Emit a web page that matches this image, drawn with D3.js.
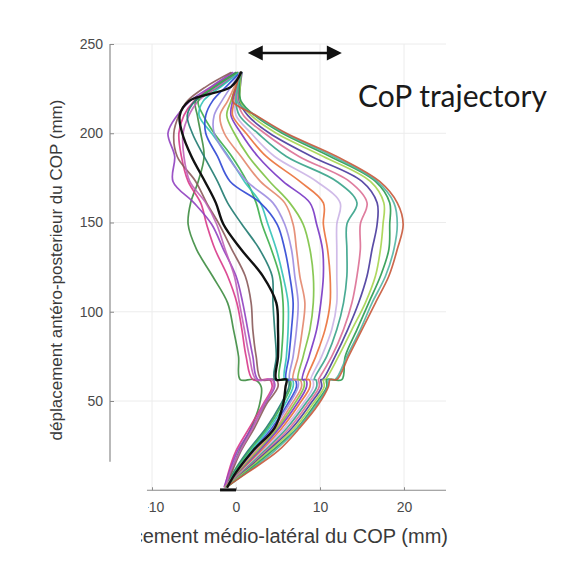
<!DOCTYPE html>
<html><head><meta charset="utf-8">
<script src="https://cdn.jsdelivr.net/npm/d3@7"></script>
<style>body{margin:0;background:#fff;} svg{display:block;}</style>
</head><body>
<script>
// ---- data ----
const xTicks = [-10, 0, 10, 20];
const yTicks = [50, 100, 150, 200, 250];
const yLevels = [2,10,22,35,48,58,62,62,75,90,105,120,135,149,161,173,187,200,210,218,226,234];

const seriesColors = [
  "#3d8c40","#d8388a","#9040c0","#8a5a5a","#c062b8","#1f7a70","#3cae4a","#32c2b6",
  "#2e46d4","#9c8ce0","#e3866c","#7cc242","#7836c4","#ea7038","#cbb4e6","#36a288",
  "#dc6f94","#48389c","#a6d44e","#2a9a4e","#52b4a2","#c8583a","#111111"
];
const seriesX = [
  [-1.2,-0.6,0.4,1.8,2.8,3.0,2.2,0.5,0.3,-0.3,-1.0,-2.8,-4.7,-5.7,-5.4,-4.5,-3.8,-4.2,-4.6,-4.8,-2.0,0.2],
  [-1.3,-0.9,0.0,1.6,3.2,4.3,4.0,2.0,1.2,0.7,0.1,-1.0,-2.5,-3.5,-4.2,-5.7,-6.5,-6.8,-6.2,-5.0,-2.8,0.0],
  [-1.4,-0.8,0.2,1.9,3.4,4.6,4.4,2.6,2.0,1.4,0.8,0.0,-1.5,-2.9,-5.0,-7.5,-7.3,-8.1,-7.0,-5.5,-3.0,-0.4],
  [-1.1,-0.5,0.6,2.2,3.6,5.0,4.8,3.0,2.4,2.0,1.8,1.1,-0.5,-2.0,-3.5,-4.8,-7.0,-7.4,-6.8,-5.8,-3.6,-0.6],
  [-1.2,-0.7,0.5,2.0,3.3,4.5,4.3,2.4,1.6,1.0,0.4,-0.2,-1.3,-2.3,-3.6,-5.5,-6.2,-6.3,-5.6,-4.5,-2.2,0.3],
  [-1.0,-0.3,1.4,3.6,5.3,6.3,6.2,4.6,4.8,4.6,4.4,4.3,2.8,0.7,-1.0,-2.2,-3.8,-5.2,-5.8,-4.9,-2.5,0.0],
  [-1.1,-0.2,1.6,3.8,5.5,6.5,6.4,5.2,5.4,5.6,5.6,5.2,4.2,3.1,2.4,1.3,-0.5,-2.6,-3.9,-4.5,-2.6,0.2],
  [-1.2,-0.1,1.8,4.0,5.8,6.8,6.7,5.8,6.0,6.2,6.2,5.6,4.8,3.8,2.9,1.0,-0.9,-2.9,-4.4,-3.9,-1.8,0.4],
  [-1.0,0.0,2.0,4.3,6.1,7.2,7.0,6.0,6.3,6.6,6.8,6.4,5.8,4.9,2.9,-0.7,-2.2,-3.6,-3.6,-2.8,-1.2,0.5],
  [-1.2,0.1,2.2,4.5,6.3,7.4,7.3,6.4,6.8,7.2,7.4,7.0,6.6,5.8,4.4,1.3,-1.0,-2.6,-2.6,-1.7,-0.6,0.6],
  [-1.3,0.2,2.4,4.8,6.6,7.8,7.6,6.8,7.4,7.9,8.2,7.6,7.2,6.8,5.8,2.9,0.6,-1.4,-1.9,-1.0,-0.2,0.5],
  [-1.1,0.3,2.6,5.0,6.9,8.1,8.0,7.4,8.0,8.8,9.2,9.2,8.8,8.0,6.4,4.0,1.5,-0.2,-1.1,-0.6,0.0,0.7],
  [-1.2,0.4,2.8,5.2,7.2,8.4,8.3,7.9,8.7,9.6,10.1,10.4,10.3,9.6,8.8,5.6,2.6,0.6,-0.6,-0.4,0.1,0.6],
  [-1.0,0.5,3.0,5.5,7.5,8.8,8.7,8.4,9.5,10.6,11.2,11.2,10.9,10.4,10.4,7.6,3.6,1.2,-0.4,-0.2,0.2,0.5],
  [-1.1,0.6,3.2,5.8,7.9,9.2,9.1,8.9,10.2,11.4,12.0,12.0,12.0,12.0,12.4,9.6,4.6,1.8,0.0,-0.1,0.3,0.4],
  [-1.2,0.7,3.4,6.1,8.2,9.6,9.5,9.3,10.8,12.0,12.8,13.2,13.2,13.2,14.4,12.0,6.0,2.6,0.4,0.0,0.3,0.6],
  [-1.3,0.8,3.6,6.4,8.5,9.9,9.8,9.8,11.4,12.8,13.8,14.4,14.8,14.8,15.6,13.5,7.5,3.4,0.9,0.2,0.4,0.6],
  [-1.1,0.9,3.8,6.7,8.8,10.2,10.1,10.3,11.8,13.3,14.6,15.6,16.2,16.8,16.8,15.0,9.0,4.0,1.4,0.4,0.5,0.7],
  [-1.2,1.0,4.0,7.0,9.1,10.5,10.4,10.6,12.2,13.8,15.4,16.6,17.2,17.5,17.6,16.0,10.4,4.8,1.8,0.5,0.5,0.6],
  [-1.0,1.2,4.3,7.3,9.4,10.8,10.8,12.6,13.0,14.4,15.8,17.2,18.2,18.3,18.3,16.6,11.2,5.5,2.2,0.6,0.4,0.5],
  [-1.2,1.3,4.6,7.4,9.6,10.9,11.0,11.8,13.2,14.8,16.2,17.8,18.8,19.2,18.8,16.8,11.6,5.8,2.3,0.1,0.2,0.6],
  [-1.1,1.4,5.0,7.6,9.8,11.0,11.2,12.0,13.4,15.0,16.6,18.2,19.2,19.9,19.2,17.1,12.0,6.0,2.4,-0.4,0.0,0.5],
  [-1.0,0.0,2.0,4.6,5.6,5.9,6.0,4.8,5.0,5.0,4.8,3.2,0.6,-1.5,-2.4,-3.7,-5.3,-6.4,-6.7,-5.6,-0.6,0.6]
];
const startBar = [[-1.9, 0.2], [0.0, 0.2]];
const arrowSpan = [1.4, 12.6];
const arrowY = 245;
const titleText = "CoP trajectory";
const xLabel = "déplacement médio-latéral du COP (mm)";
const yLabel = "déplacement antéro-posterieur du COP (mm)";

// ---- drawing ----
const W = 576, H = 566;
const svg = d3.select("body").append("svg").attr("width", W).attr("height", H)
  .style("font-family", "'Liberation Sans', Arial, sans-serif");

const x = d3.scaleLinear().domain([-10, 20]).range([152, 404]);
const y = d3.scaleLinear().domain([0, 250]).range([490.25, 44]);
const xLineDomain = [-10.6, 25.0];
const yLineDomain = [16, 250];

// clip paths (left side of the x axis area is cropped in the original)
svg.append("clipPath").attr("id", "cropTick").append("rect")
  .attr("x", 148).attr("y", -600).attr("width", W).attr("height", 1200);
svg.append("clipPath").attr("id", "cropLab").append("rect")
  .attr("x", 141).attr("y", 0).attr("width", W).attr("height", H);

// grid
const grid = svg.append("g").attr("stroke", "#ececec").attr("stroke-width", 1);
grid.selectAll("line.v").data(xTicks).join("line")
  .attr("x1", d => x(d)).attr("x2", d => x(d))
  .attr("y1", y(250)).attr("y2", y(0));
grid.selectAll("line.h").data(yTicks).join("line")
  .attr("x1", 110).attr("x2", x(xLineDomain[1]))
  .attr("y1", d => y(d)).attr("y2", d => y(d));

// axes
const xAxis = d3.axisBottom(x).tickValues(xTicks).tickSize(-3).tickPadding(12)
  .tickFormat(d => d < 0 ? "\u2212" + Math.abs(d) : d);
const gx = svg.append("g").attr("transform", `translate(0,${y(0)})`)
  .attr("clip-path", "url(#cropTick)").call(xAxis);
gx.select(".domain").remove();
gx.selectAll("line").attr("stroke", "#8a8a8a");
gx.selectAll("text").attr("fill", "#4a4a4a").style("font-size", "14px");
svg.append("line").attr("x1", x(xLineDomain[0])).attr("x2", x(xLineDomain[1]))
  .attr("y1", y(0)).attr("y2", y(0)).attr("stroke", "#8a8a8a").attr("stroke-width", 1.2);

const yAxis = d3.axisLeft(y).tickValues(yTicks).tickSize(-4).tickPadding(7);
const gy = svg.append("g").attr("transform", `translate(110,0)`).call(yAxis);
gy.select(".domain").remove();
gy.selectAll("line").attr("stroke", "#8a8a8a");
gy.selectAll("text").attr("fill", "#4a4a4a").style("font-size", "14px");
svg.append("line").attr("x1", 110).attr("x2", 110)
  .attr("y1", y(yLineDomain[0])).attr("y2", y(yLineDomain[1]))
  .attr("stroke", "#8a8a8a").attr("stroke-width", 1.2);

// trajectories
const line = d3.line().x(d => x(d[0])).y(d => y(d[1])).curve(d3.curveCatmullRom.alpha(0.5));
const traj = svg.append("g").attr("fill", "none").attr("stroke-linejoin", "round").attr("stroke-linecap", "round");
seriesX.forEach((xs, i) => {
  const pts = xs.map((v, k) => [v, yLevels[k]]);
  const isBlack = seriesColors[i] === "#111111";
  traj.append("path").attr("d", line(pts))
    .attr("stroke", seriesColors[i])
    .attr("stroke-width", isBlack ? 2.4 : 1.7)
    .attr("stroke-opacity", isBlack ? 1 : 0.9);
});
svg.append("line")
  .attr("x1", x(startBar[0][0])).attr("x2", x(startBar[1][0]))
  .attr("y1", y(startBar[0][1])).attr("y2", y(startBar[1][1]))
  .attr("stroke", "#111").attr("stroke-width", 3);

// x label (cropped on the left)
svg.append("text").attr("x", 448).attr("y", 543).attr("text-anchor", "end")
  .attr("fill", "#3a3a3a").style("font-size", "20px").attr("clip-path", "url(#cropLab)")
  .text(xLabel);

// y label
svg.append("text").attr("transform", "translate(62,270) rotate(-90)")
  .attr("text-anchor", "middle").attr("fill", "#3a3a3a").style("font-size", "17px")
  .text(yLabel);

// arrow
const ax1 = x(arrowSpan[0]), ax2 = x(arrowSpan[1]), ay = y(arrowY);
const hl = 15, hw = 7.5;
svg.append("line").attr("x1", ax1 + hl - 2).attr("x2", ax2 - hl + 2).attr("y1", ay).attr("y2", ay)
  .attr("stroke", "#111").attr("stroke-width", 2.6);
svg.append("path").attr("fill", "#111")
  .attr("d", `M${ax1},${ay} L${ax1 + hl},${ay - hw} L${ax1 + hl},${ay + hw} Z M${ax2},${ay} L${ax2 - hl},${ay - hw} L${ax2 - hl},${ay + hw} Z`);

// title
svg.append("text").attr("x", 358).attr("y", 107).attr("fill", "#1a1a1a")
  .style("font-family", "Lato, 'Open Sans', sans-serif").style("font-size", "30px")
  .text(titleText);
</script>
</body></html>
